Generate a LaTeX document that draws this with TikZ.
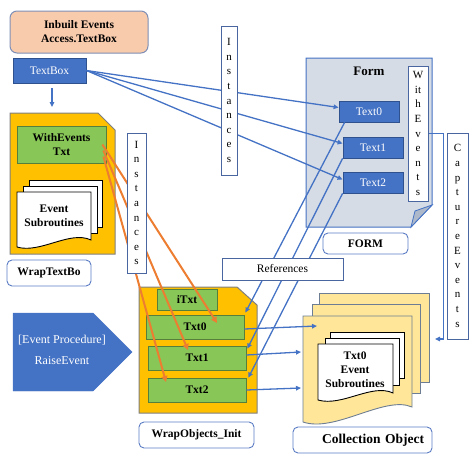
\documentclass[tikz,border=0pt]{standalone}
\usepackage{fontspec}
\setmainfont{Liberation Serif}
\usetikzlibrary{arrows.meta,calc}

\definecolor{peach}{HTML}{F8CBAD}
\definecolor{peachline}{HTML}{7F8FB5}
\definecolor{msblue}{HTML}{4472C4}
\definecolor{msblueline}{HTML}{2F528F}
\definecolor{msorange}{HTML}{FFC000}
\definecolor{contline}{HTML}{7F7F7F}
\definecolor{txtgreen}{HTML}{88C657}
\definecolor{greenline}{HTML}{557F3A}
\definecolor{formgray}{HTML}{D6DCE5}
\definecolor{foldgray}{HTML}{ADB9CA}
\definecolor{collyellow}{HTML}{FFE699}
\definecolor{collline}{HTML}{6D7E94}
\definecolor{lblblue}{HTML}{5B7CC4}
\definecolor{vline}{HTML}{4A66A0}
\definecolor{arroworange}{HTML}{ED7D31}

\tikzset{
  box/.style={draw, inner sep=0pt, align=center, font=\fontsize{11.5}{14}\selectfont},
  boldtext/.style={align=center, font=\fontsize{11.5}{14}\selectfont\bfseries},
  bluebox/.style={box, fill=msblue, draw=msblueline, line width=0.8pt, text=white},
  greenbox/.style={box, fill=txtgreen, draw=greenline, line width=0.8pt, font=\fontsize{11.5}{14}\selectfont\bfseries},
  lblbox/.style={box, fill=white, draw=lblblue, line width=0.9pt, rounded corners=5pt, font=\fontsize{11.5}{14}\selectfont\bfseries},
  vbox/.style={box, fill=white, draw=vline, line width=1pt, font=\fontsize{11}{14.6}\selectfont},
  docpage/.style={fill=white, draw=black, line width=0.9pt},
  collpage/.style={fill=collyellow, draw=collline, line width=0.9pt},
  container/.style={fill=msorange, draw=contline, line width=1pt},
  blueline/.style={draw=msblue, line width=1.3pt, -{Triangle[length=5pt,width=4.5pt]}},
  orangeline/.style={draw=arroworange, line width=2pt, -{Triangle[length=6pt,width=6pt]}},
}

\begin{document}
\begin{tikzpicture}[x=1pt, y=-1pt]
\useasboundingbox (0,0) rectangle (474,474);

% top left
\node[box, fill=peach, draw=peachline, line width=1pt, rounded corners=7pt,
      minimum width=138pt, minimum height=42pt,
      font=\fontsize{11.5}{14}\selectfont\bfseries] (inbuilt) at (79,32) {Inbuilt Events\\Access.TextBox};
\node[bluebox, minimum width=73pt, minimum height=25pt] (textbox) at (49.5,70.5) {TextBox};

% WrapTextBo
\draw[container] (10,113) -- (98,113) -- (115,130) -- (115,254) -- (10,254) -- cycle;
\coordinate (wtbtop) at (52,113);
\node[greenbox, minimum width=89pt, minimum height=37pt] (withtxt) at (61.5,144.5) {WithEvents\\Txt};
\draw[docpage] (29,180) rectangle (102,227);
\draw[docpage] (23,186) rectangle (97,233);
\draw[docpage] (17,192) -- (91,192) -- (91,240) .. controls (70,230) and (40,254) .. (17,247) -- cycle;
\node[boldtext] (evsub) at (54,216) {Event\\Subroutines};
\node[lblbox, minimum width=84pt, minimum height=26pt] (wtblbl) at (49,273) {WrapTextBo};

% Form
\draw[fill=formgray, draw=msblue, line width=1pt] (306,58) -- (432,58) -- (432,205) -- (411,227) -- (306,227) -- cycle;
\draw[fill=foldgray, draw=msblue, line width=0.8pt] (411,227) -- (415,211) -- (432,205) -- cycle;
\node[font=\fontsize{13}{15}\selectfont\bfseries] (formttl) at (369,71) {Form};
\node[bluebox, minimum width=60pt, minimum height=21pt] (text0) at (369,111.5) {Text0};
\node[bluebox, minimum width=60pt, minimum height=21pt] (text1) at (373,147.5) {Text1};
\node[bluebox, minimum width=60pt, minimum height=21pt] (text2) at (373,182.5) {Text2};
\node[vbox, minimum width=20pt, minimum height=135pt] (withev) at (418,133.5) {W\\it\\h\\E\\v\\e\\n\\t\\s};
\node[vbox, minimum width=21pt, minimum height=206pt] (capture) at (457.5,236) {C\\a\\p\\t\\u\\r\\e\\E\\v\\e\\n\\t\\s};
\node[lblbox, minimum width=85pt, minimum height=21pt] (formlbl) at (365.5,243.5) {FORM};

% Event procedure
\draw[fill=msblue, draw=msblue] (13,313) -- (93,313) -- (132,352) -- (93,391) -- (13,391) -- cycle;
\node[text=white, align=center, font=\fontsize{12}{21}\selectfont] (evproc) at (62,349.5) {[Event Procedure]\\RaiseEvent};

% WrapObjects_Init
\draw[container] (139,287) -- (237,287) -- (257,305) -- (257,413) -- (139,413) -- cycle;
\node[greenbox, minimum width=60pt, minimum height=21pt] (itxt) at (187,299.5) {iTxt};
\node[greenbox, minimum width=98pt, minimum height=24pt] (txt0) at (195,327) {Txt0};
\node[greenbox, minimum width=98pt, minimum height=24pt] (txt1) at (197,358) {Txt1};
\node[greenbox, minimum width=98pt, minimum height=24pt] (txt2) at (197,390) {Txt2};
\node[lblbox, minimum width=115pt, minimum height=26pt] (wolbl) at (196.5,435) {WrapObjects\_Init};

% Collection
\draw[collpage] (319,293) rectangle (429,382);
\draw[collpage] (312,304) rectangle (420,393);
\draw[collpage] (303,316) -- (412,316) -- (412,407) .. controls (385,395) and (335,433) .. (303,422) -- cycle;
\draw[docpage] (330,332) rectangle (404,378);
\draw[docpage] (325,338) rectangle (399,385);
\draw[docpage] (318,344) -- (393,344) -- (393,393) .. controls (372,383) and (342,407) .. (318,400) -- cycle;
\node[boldtext] (collsub) at (355,369.5) {Txt0\\Event\\Subroutines};
\coordinate (collin0) at (317,326);
\coordinate (collin1) at (301,352);
\coordinate (collin2) at (301,388);
\coordinate (collback) at (435,339);
\node[lblbox, minimum width=139pt, minimum height=26pt, text width=123pt, align=right,
      font=\fontsize{13.5}{15}\selectfont\bfseries] (colllbl) at (362.5,440) {Collection Object};

% connectors
\draw[blueline, shorten <=5pt, shorten >=6pt] (textbox.south -| wtbtop) -- (wtbtop);
\draw[blueline] (textbox.east) -- ($(text0.west)+(0,-4)$);
\draw[blueline] (textbox.east) -- ($(text1.west)+(0,-4)$);
\draw[blueline] (textbox.east) -- ($(text2.west)+(0,-3)$);
\draw[blueline] ($(text0.south west)+(6,0)$) -- ($(txt0.north east)+(1,-2)$);
\draw[blueline] (text1.south west) -- ($(txt1.north east)+(1,3)$);
\draw[blueline] (text2.south west) -- ($(txt2.north east)+(2,0)$);
\draw[orangeline] ($(withtxt.east)+(-4,0)$) -- ($(txt0.center)+(22,-4)$);
\draw[orangeline] ($(withtxt.east)+(-3,6)$) -- ($(txt1.center)+(-9,-8)$);
\draw[orangeline] ($(withtxt.east)+(-3,12)$) -- ($(txt2.center)+(-31,-8)$);
\draw[blueline] ($(txt0.east)+(0,2)$) -- (collin0);
\draw[blueline] ($(txt1.east)+(0,-3)$) -- (collin1);
\draw[blueline] (txt2.east) -- (collin2);
\draw[blueline] (withev.east) -- ++(15,0) |- (collback);

% boxes on top
\node[vbox, minimum width=19pt, minimum height=140pt] (inst1) at (136.5,203) {I\\n\\s\\t\\a\\n\\c\\e\\s};
\node[vbox, minimum width=16pt, minimum height=149pt] (inst2) at (229,100.5) {I\\n\\s\\t\\a\\n\\c\\e\\s};
\node[box, fill=white, draw=vline, line width=0.9pt, minimum width=121pt, minimum height=22pt] (refs) at (282.5,269) {References};
\end{tikzpicture}
\end{document}
